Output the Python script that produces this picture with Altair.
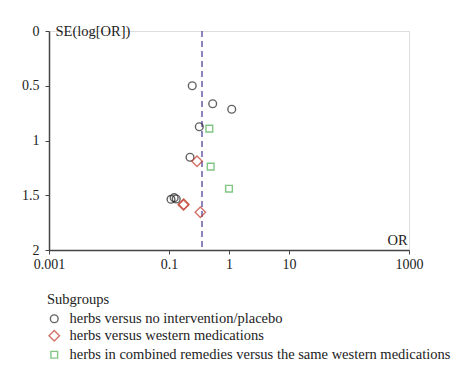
import altair as alt
import pandas as pd

# Data
groups = ["herbs versus no intervention/placebo",
          "herbs versus western medications",
          "herbs in combined remedies versus the same western medications"]

circle_or = [0.244, 0.535, 1.11, 0.32, 0.224, 0.108, 0.122, 0.132]
circle_se = [0.50, 0.664, 0.715, 0.874, 1.153, 1.537, 1.522, 1.534]

diamond_or = [0.293, 0.176, 0.174, 0.333]
diamond_se = [1.19, 1.583, 1.588, 1.656]

square_or = [0.47, 0.495, 1.0]
square_se = [0.892, 1.239, 1.44]

pooled_or = 0.355

x_ticks = [0.001, 0.1, 1, 10, 1000]
y_ticks = [0, 0.5, 1, 1.5, 2]

rows = []
for o, s in zip(circle_or, circle_se):
    rows.append({"OR": o, "SE": s, "group": groups[0]})
for o, s in zip(diamond_or, diamond_se):
    rows.append({"OR": o, "SE": s, "group": groups[1]})
for o, s in zip(square_or, square_se):
    rows.append({"OR": o, "SE": s, "group": groups[2]})
df = pd.DataFrame(rows)

FONT = "Liberation Serif"
TXT = "#222222"

xscale = alt.Scale(type="log", domain=[0.001, 1000], nice=False)
yscale = alt.Scale(domain=[0, 2], reverse=True, nice=False)

xaxis = alt.Axis(values=x_ticks, labelExpr="datum.value + ''", grid=False,
                 title="OR", titleAngle=0, titleX=348, titleY=-10,
                 titleAlign="center", titleBaseline="middle",
                 titleFont=FONT, titleFontSize=14.5, titleFontWeight="normal",
                 titleColor=TXT, labelFont=FONT, labelFontSize=14,
                 labelColor=TXT, domainColor="#444444", domainWidth=1.5,
                 tickColor="#444444", tickSize=4, labelPadding=3,
                 labelFlush=False, labelOverlap=False)
yaxis = alt.Axis(values=y_ticks, labelExpr="datum.value + ''", grid=False,
                 title="SE(log[OR])", titleAngle=0, titleX=6, titleY=0,
                 titleAlign="left", titleBaseline="middle",
                 titleFont=FONT, titleFontSize=14.5, titleFontWeight="normal",
                 titleColor=TXT, labelFont=FONT, labelFontSize=14,
                 labelColor=TXT, domainColor="#444444", domainWidth=1.5,
                 tickColor="#444444", tickSize=4, labelPadding=6,
                 labelFlush=False, labelOverlap=False)

legend = alt.Legend(title="Subgroups", orient="none",
                    legendX=-2, legendY=262,
                    titleFont=FONT, titleFontSize=14.5,
                    titleFontWeight="normal", titleColor=TXT,
                    labelFont=FONT, labelFontSize=14.5,
                    labelColor=TXT, symbolStrokeWidth=1.4, rowPadding=2,
                    labelLimit=500, titlePadding=4, labelOffset=8)

points = alt.Chart(df).mark_point(filled=False, strokeWidth=1.4).encode(
    x=alt.X("OR:Q", scale=xscale, axis=xaxis),
    y=alt.Y("SE:Q", scale=yscale, axis=yaxis),
    color=alt.Color("group:N",
                    scale=alt.Scale(domain=groups, range=["#222222", "#c0392b", "#4caf50"]),
                    legend=legend),
    shape=alt.Shape("group:N",
                    scale=alt.Scale(domain=groups, range=["circle", "diamond", "square"]),
                    legend=legend),
    size=alt.Size("group:N",
                  scale=alt.Scale(type="ordinal", domain=groups, range=[60, 110, 45]),
                  legend=legend),
)

rule_df = pd.DataFrame({"OR": [pooled_or], "lo": [0], "hi": [2]})
rule = alt.Chart(rule_df).mark_rule(color="#6a5ca8", strokeDash=[6, 4], strokeWidth=1.5).encode(
    x=alt.X("OR:Q", scale=xscale),
    y=alt.Y("lo:Q", scale=yscale),
    y2="hi:Q",
)

chart = alt.layer(rule, points).properties(
    width=360, height=219,
    autosize=alt.AutoSizeParams(type="none"),
    padding={"left": 41, "top": 23, "right": 57, "bottom": 124},
).configure_view(stroke=None).configure(background="white")

chart.save("out.html", embed_options={"renderer": "svg", "actions": False})
